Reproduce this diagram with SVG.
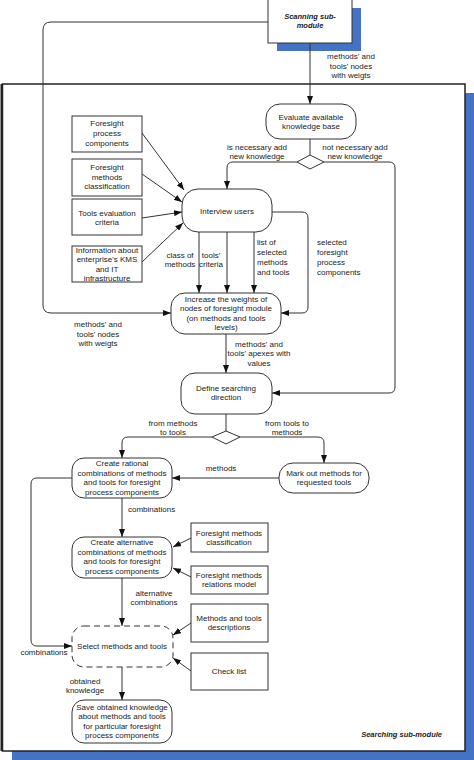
<svg xmlns="http://www.w3.org/2000/svg" width="474" height="760" viewBox="0 0 474 760">
<defs>
<marker id="arr" markerUnits="userSpaceOnUse" markerWidth="8" markerHeight="6" refX="8" refY="3" orient="auto">
<path d="M0,0 L8,3 L0,6 z" fill="#111"/>
</marker>
<style>
text{font-family:"Liberation Sans",Arial,sans-serif;font-size:8px;fill:#222;text-anchor:middle}
.l{text-anchor:start}
.bi{font-weight:bold;font-style:italic;font-size:7.5px}
.box{fill:#fff;stroke:#333;stroke-width:1}
.rr{fill:#fff;stroke:#333;stroke-width:1}
.dash{stroke-dasharray:6,4}
.c{fill:none;stroke:#333;stroke-width:1}
.a{marker-end:url(#arr)}
.shadow{fill:#4472c4}
</style>
</defs>
<rect width="474" height="760" fill="#fff"/>
<g id="frame">
<rect class="shadow" x="12" y="93" width="462" height="667"/>
<rect x="2.5" y="84" width="462.5" height="667" fill="#fff" stroke="#222" stroke-width="1.5"/>
<line x1="1.5" y1="84" x2="1.5" y2="751" stroke="#222" stroke-width="2"/>
<text class="bi" x="442" y="737" style="text-anchor:end">Searching sub-module</text>
</g>
<g id="scanning">
<rect class="shadow" x="277" y="8" width="84" height="43"/>
<rect class="box" x="268" y="-2" width="84" height="45"/>
<text class="bi" x="310" y="19">Scanning sub-</text>
<text class="bi" x="310" y="28">module</text>
</g>
<g id="connectors">
<path class="c a" d="M310,43 V104"/>
<path class="c a" d="M268,22 H51 Q43,22 43,30 V305 Q43,313 51,313 H171"/>
<path class="c" d="M310,139 V155"/>
<path class="c a" d="M297,162 H233 Q227,162 227,168 V189"/>
<path class="c a" d="M324,162 H389 Q395,162 395,168 V387 Q395,393 389,393 H272"/>
<path class="c a" d="M142,133 L184,190"/>
<path class="c a" d="M142,174 L182,202"/>
<path class="c a" d="M142,218 L182,212"/>
<path class="c a" d="M142,262 L183,223"/>
<path class="c a" d="M199,232 V293"/>
<path class="c a" d="M227,232 V293"/>
<path class="c a" d="M254,232 V293"/>
<path class="c a" d="M272,212 H302 Q308,212 308,218 V307 Q308,313 302,313 H281"/>
<path class="c a" d="M226,334 V373"/>
<path class="c" d="M226,414 V431"/>
<path class="c a" d="M212,437 H128 Q122,437 122,443 V458"/>
<path class="c a" d="M240,437 H318 Q324,437 324,443 V463"/>
<path class="c a" d="M279,478 H172"/>
<path class="c a" d="M72,478 H37 Q31,478 31,484 V640 Q31,646 37,646 H72"/>
<path class="c a" d="M122,498 V537"/>
<path class="c a" d="M191,538 L173,547"/>
<path class="c a" d="M191,577 L173,568"/>
<path class="c a" d="M122,578 V626"/>
<path class="c a" d="M191,623 L173,635"/>
<path class="c a" d="M191,671 L173,658"/>
<path class="c a" d="M122,667 V700"/>
<text x="351" y="59">methods' and</text>
<text x="351" y="69">tools' nodes</text>
<text x="351" y="78">with weigts</text>
<text x="257" y="150">is necessary add</text>
<text x="257" y="159">new knowledge</text>
<text x="355" y="150">not necessary add</text>
<text x="355" y="159">new knowledge</text>
<text x="180" y="258">class of</text>
<text x="180" y="267">methods</text>
<text x="211" y="258">tools'</text>
<text x="211" y="267">criteria</text>
<text class="l" x="257" y="245">list of</text>
<text class="l" x="257" y="255">selected</text>
<text class="l" x="257" y="265">methods</text>
<text class="l" x="257" y="275">and tools</text>
<text class="l" x="317" y="245">selected</text>
<text class="l" x="317" y="255">foresight</text>
<text class="l" x="317" y="265">process</text>
<text class="l" x="317" y="275">components</text>
<text x="98" y="327">methods' and</text>
<text x="98" y="337">tools' nodes</text>
<text x="98" y="346">with weigts</text>
<text x="259" y="347">methods' and</text>
<text x="259" y="356">tools' apexes with</text>
<text x="259" y="366">values</text>
<text x="173" y="426">from methods</text>
<text x="173" y="435">to tools</text>
<text x="287" y="426">from tools to</text>
<text x="287" y="435">methods</text>
<text x="221" y="471">methods</text>
<text class="l" x="128" y="512">combinations</text>
<text x="154" y="596">alternative</text>
<text x="154" y="605">combinations</text>
<text x="44" y="655">combinations</text>
<text x="85" y="684">obtained</text>
<text x="85" y="693">knowledge</text>
</g>
<g id="evaluate">
<rect class="rr" x="266" y="104" width="90" height="35" rx="14"/>
<text x="311" y="120">Evaluate available</text>
<text x="311" y="129">knowledge base</text>
</g>
<g id="decision1">
<polygon points="310,155 324,162 310,169 297,162" fill="#fff" stroke="#333"/>
</g>
<g id="fpc">
<rect class="box" x="72" y="116" width="70" height="36"/>
<text x="107" y="126">Foresight</text>
<text x="107" y="136">process</text>
<text x="107" y="146">components</text>
</g>
<g id="fmc">
<rect class="box" x="72" y="159" width="70" height="37"/>
<text x="107" y="170">Foresight</text>
<text x="107" y="180">methods</text>
<text x="107" y="189">classification</text>
</g>
<g id="tec">
<rect class="box" x="72" y="199" width="70" height="36"/>
<text x="107" y="216">Tools evaluation</text>
<text x="107" y="225">criteria</text>
</g>
<g id="info">
<rect class="box" x="72" y="246" width="70" height="36"/>
<text x="107" y="253">Information about</text>
<text x="107" y="262">enterprise's KMS</text>
<text x="107" y="272">and IT</text>
<text x="107" y="281">infrastructure</text>
</g>
<g id="interview">
<rect class="rr" x="182" y="189" width="90" height="43" rx="16"/>
<text x="227" y="214">Interview users</text>
</g>
<g id="increase">
<rect class="rr" x="171" y="293" width="110" height="41" rx="14"/>
<text x="226" y="302">Increase the weights of</text>
<text x="226" y="311">nodes of foresight module</text>
<text x="226" y="321">(on methods and tools</text>
<text x="226" y="330">levels)</text>
</g>
<g id="define">
<rect class="rr" x="181" y="373" width="91" height="41" rx="14"/>
<text x="226" y="391">Define searching</text>
<text x="226" y="400">direction</text>
</g>
<g id="decision2">
<polygon points="226,431 240,437 226,444 212,437" fill="#fff" stroke="#333"/>
</g>
<g id="rational">
<rect class="rr" x="72" y="458" width="100" height="40" rx="12"/>
<text x="122" y="466">Create rational</text>
<text x="122" y="476">combinations of methods</text>
<text x="122" y="485">and tools for foresight</text>
<text x="122" y="495">process components</text>
</g>
<g id="markout">
<rect class="rr" x="279" y="463" width="90" height="30" rx="14"/>
<text x="324" y="476">Mark out methods for</text>
<text x="324" y="485">requested tools</text>
</g>
<g id="alternative">
<rect class="rr" x="72" y="537" width="100" height="41" rx="12"/>
<text x="122" y="545">Create alternative</text>
<text x="122" y="555">combinations of methods</text>
<text x="122" y="564">and tools for foresight</text>
<text x="122" y="574">process components</text>
</g>
<g id="fmc2">
<rect class="box" x="191" y="523" width="77" height="29"/>
<text x="229" y="536">Foresight methods</text>
<text x="229" y="545">classification</text>
</g>
<g id="relations">
<rect class="box" x="191" y="566" width="77" height="28"/>
<text x="229" y="578">Foresight methods</text>
<text x="229" y="587">relations model</text>
</g>
<g id="select">
<rect class="rr dash" x="72" y="626" width="101" height="41" rx="12"/>
<text x="122" y="649">Select methods and tools</text>
</g>
<g id="descriptions">
<rect class="box" x="191" y="604" width="77" height="38"/>
<text x="229" y="621">Methods and tools</text>
<text x="229" y="630">descriptions</text>
</g>
<g id="checklist">
<rect class="box" x="191" y="653" width="77" height="37"/>
<text x="229" y="674">Check list</text>
</g>
<g id="save">
<rect class="rr" x="72" y="700" width="100" height="43" rx="12"/>
<text x="122" y="710">Save obtained knowledge</text>
<text x="122" y="719">about methods and tools</text>
<text x="122" y="729">for particular foresight</text>
<text x="122" y="738">process components</text>
</g>
</svg>
